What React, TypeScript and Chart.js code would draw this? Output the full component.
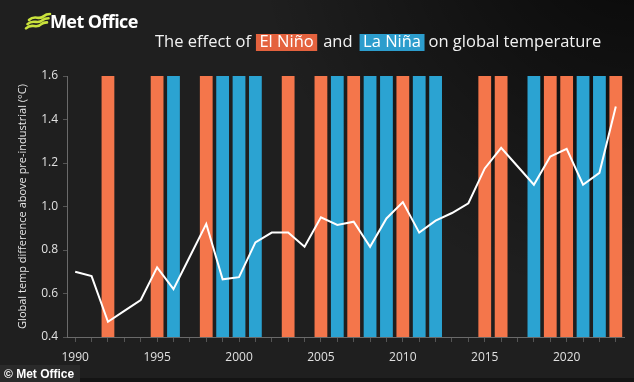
import React, { useEffect, useRef } from 'react';
import { Chart, registerables } from 'chart.js';

Chart.register(...registerables);

// ---- data ----
const years = [
  1990, 1991, 1992, 1993, 1994, 1995, 1996, 1997, 1998, 1999,
  2000, 2001, 2002, 2003, 2004, 2005, 2006, 2007, 2008, 2009,
  2010, 2011, 2012, 2013, 2014, 2015, 2016, 2017, 2018, 2019,
  2020, 2021, 2022, 2023,
];
const tempAnomaly = [
  0.70, 0.68, 0.47, 0.52, 0.57, 0.72, 0.62, 0.77, 0.92, 0.665,
  0.675, 0.835, 0.88, 0.88, 0.815, 0.95, 0.915, 0.93, 0.815, 0.945,
  1.02, 0.88, 0.935, 0.97, 1.015, 1.175, 1.27, 1.185, 1.10, 1.23,
  1.265, 1.10, 1.155, 1.46,
];
const elNinoYears = [1992, 1995, 1998, 2003, 2005, 2007, 2010, 2015, 2016, 2019, 2020, 2023];
const laNinaYears = [1996, 1999, 2000, 2001, 2006, 2008, 2009, 2011, 2012, 2018, 2021, 2022];
const yTicks = [0.4, 0.6, 0.8, 1.0, 1.2, 1.4, 1.6];
const xLabelEvery = 5;

const yMin = yTicks[0];
const yMax = yTicks[yTicks.length - 1];

const ORANGE = '#f4764b';
const BLUE = '#2ba3d2';
const BOX_ORANGE = '#e4623e';
const BOX_BLUE = '#2c9dcd';
const FONT = '"Open Sans", "DejaVu Sans", sans-serif';

const decorPlugin = {
  id: 'decor',
  beforeDraw(chart: any) {
    const ctx = chart.ctx as CanvasRenderingContext2D;
    const W = chart.width;
    const H = chart.height;
    ctx.save();
    ctx.fillStyle = '#1f1f1f';
    ctx.fillRect(0, 0, W, H);
    const rg = ctx.createRadialGradient(W, -80, 10, W, -80, 380);
    rg.addColorStop(0, 'rgba(0,0,0,0.75)');
    rg.addColorStop(1, 'rgba(0,0,0,0)');
    ctx.fillStyle = rg;
    ctx.fillRect(0, 0, W, H);
    // bottom darker strip
    ctx.fillStyle = '#141414';
    ctx.fillRect(0, H - 4, W, 4);

    // logo icon
    ctx.strokeStyle = '#c9e23c';
    ctx.lineWidth = 2.6;
    ctx.lineCap = 'round';
    for (let i = 0; i < 3; i++) {
      const oy = 17 + i * 4.2;
      const ox = 26 + (2 - i) * 1.5;
      ctx.beginPath();
      ctx.moveTo(ox, oy + 3);
      ctx.bezierCurveTo(ox + 6, oy - 3, ox + 10, oy + 4, ox + 15, oy - 1);
      ctx.bezierCurveTo(ox + 17, oy - 3, ox + 19, oy - 3, ox + 21, oy - 3);
      ctx.stroke();
    }
    // logo text
    ctx.fillStyle = '#ffffff';
    ctx.font = `700 18px ${FONT}`;
    (ctx as any).letterSpacing = '-0.6px';
    ctx.textBaseline = 'alphabetic';
    ctx.textAlign = 'left';
    ctx.fillText('Met Office', 50, 28);
    (ctx as any).letterSpacing = '0px';

    // title
    ctx.font = `400 16.5px ${FONT}`;
    const base = 47;
    let x = 155;
    const seg = (t: string) => {
      ctx.fillStyle = '#f2f2f2';
      ctx.fillText(t, x, base);
      x += ctx.measureText(t).width;
    };
    const box = (t: string, c: string) => {
      const w = ctx.measureText(t).width;
      ctx.fillStyle = c;
      ctx.fillRect(x, 34, w + 7, 17);
      ctx.fillStyle = '#ffffff';
      ctx.fillText(t, x + 3.5, base);
      x += w + 7;
    };
    seg('The effect of');
    x += 5;
    box('El Niño', BOX_ORANGE);
    x += 6;
    seg('and');
    x += 7;
    box('La Niña', BOX_BLUE);
    x += 4;
    seg('on global temperature');
    ctx.restore();
  },
  afterDraw(chart: any) {
    const ctx = chart.ctx as CanvasRenderingContext2D;
    const H = chart.height;
    ctx.save();
    ctx.fillStyle = '#2a2a2a';
    ctx.fillRect(0, H - 17, 80, 17);
    ctx.fillStyle = '#ffffff';
    ctx.font = `700 12px "Liberation Sans", Arial, sans-serif`;
    ctx.textBaseline = 'alphabetic';
    ctx.textAlign = 'left';
    ctx.fillText('© Met Office', 4, H - 4);
    ctx.restore();
  },
};

export default function App() {
  const ref = useRef<HTMLCanvasElement | null>(null);

  useEffect(() => {
    document.body.style.margin = '0';
    document.body.style.background = '#1f1f1f';
    const canvas = ref.current;
    if (!canvas) return;

    const elNino = years.map((y) => (elNinoYears.includes(y) ? [yMin, yMax] : null));
    const laNina = years.map((y) => (laNinaYears.includes(y) ? [yMin, yMax] : null));

    const chart = new Chart(canvas, {
      type: 'bar',
      data: {
        labels: years.map(String),
        datasets: [
          {
            type: 'line',
            label: 'Global temperature',
            data: tempAnomaly,
            borderColor: '#ffffff',
            borderWidth: 2,
            pointRadius: 0,
            tension: 0,
            order: 0,
          } as any,
          {
            label: 'El Niño',
            data: elNino as any,
            backgroundColor: ORANGE,
            grouped: false,
            barPercentage: 0.78,
            categoryPercentage: 1,
            order: 1,
          } as any,
          {
            label: 'La Niña',
            data: laNina as any,
            backgroundColor: BLUE,
            grouped: false,
            barPercentage: 0.78,
            categoryPercentage: 1,
            order: 1,
          } as any,
        ],
      },
      options: {
        animation: false,
        responsive: false,
        maintainAspectRatio: false,
        layout: { padding: { top: 76, right: 10, left: 0, bottom: 0 } },
        plugins: {
          legend: { display: false },
          tooltip: { enabled: false },
          title: { display: false },
        },
        scales: {
          x: {
            type: 'category',
            offset: true,
            grid: {
              display: true,
              drawOnChartArea: false,
              drawTicks: true,
              tickLength: 5,
              color: '#555555',
              offset: false,
            },
            border: { display: true, color: '#6a6a6a' },
            ticks: {
              autoSkip: false,
              maxRotation: 0,
              color: '#e0e0e0',
              font: { family: FONT, size: 12 },
              padding: 8,
              callback: (_v: any, i: number) => (years[i] % xLabelEvery === 0 ? String(years[i]) : ''),
            },
            afterFit: (s: any) => {
              s.height = 45;
            },
          },
          y: {
            min: yMin,
            max: yMax,
            afterBuildTicks: (s: any) => {
              s.ticks = yTicks.map((v) => ({ value: v }));
            },
            grid: {
              display: true,
              drawOnChartArea: false,
              drawTicks: true,
              tickLength: 4,
              color: '#555555',
            },
            border: { display: true, color: '#6a6a6a' },
            ticks: {
              color: '#e0e0e0',
              font: { family: FONT, size: 12 },
              padding: 5,
              callback: (v: any) => Number(v).toFixed(1),
            },
            title: {
              display: true,
              text: 'Global temp difference above pre-industrial (°C)',
              color: '#e6e6e6',
              font: { family: FONT, size: 11 },
              padding: { top: 16, bottom: 0 },
            },
            afterFit: (s: any) => {
              s.width = 67;
            },
          },
        },
      } as any,
      plugins: [decorPlugin],
    });

    return () => {
      chart.destroy();
    };
  }, []);

  return (
    <div style={{ width: 634, height: 382, position: 'relative' }}>
      <canvas ref={ref} width={634} height={382} style={{ display: 'block' }} />
    </div>
  );
}
